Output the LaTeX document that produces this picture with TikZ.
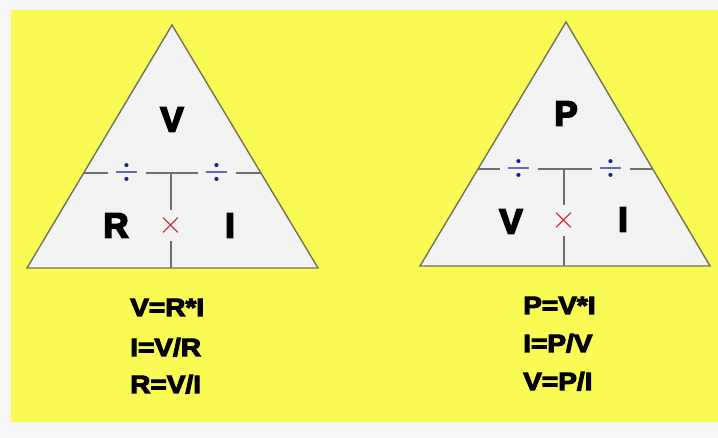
\RequirePackage{fix-cm}
\documentclass[tikz,border=0pt]{standalone}
\usepackage{fontspec}
\setmainfont{Liberation Sans}
\newfontfamily\heavy{Liberation Sans Bold}[FakeBold=5]
\newfontfamily\heavyeq{Liberation Sans Bold}[FakeBold=4]
\definecolor{bgy}{RGB}{250,250,85}
\definecolor{outerbg}{RGB}{246,246,246}
\definecolor{trifill}{RGB}{243,243,243}
\definecolor{triedge}{RGB}{115,115,85}
\definecolor{divline}{RGB}{110,110,110}
\definecolor{divblue}{RGB}{20,30,150}
\definecolor{mulred}{RGB}{200,40,40}
\begin{document}
\begin{tikzpicture}[x=1pt,y=-1pt,
  tri/.style={fill=trifill,draw=triedge,line width=1.4pt,line join=miter},
  divl/.style={draw=divline,line width=1.8pt},
  bigletter/.style={font=\heavy\fontsize{35}{35}\selectfont,text height=25pt,text depth=0pt,inner sep=0pt},
  divsign/.style={font=\fontsize{32}{32}\selectfont,text=divblue,fill=trifill,minimum width=38pt,minimum height=16pt,inner sep=0pt},
  mulsign/.style={font=\fontsize{32}{32}\selectfont,text=mulred,fill=trifill,minimum width=18pt,minimum height=31pt,inner sep=0pt},
  eqn/.style={font=\heavyeq\fontsize{25}{25}\selectfont,text height=18pt,text depth=0pt,inner sep=0pt,anchor=west,xscale=1.12}]
\fill[outerbg] (0,0) rectangle (718,438);
\fill[bgy] (11,10) rectangle (718,422);
\useasboundingbox (0,0) rectangle (718,438);
% left triangle
\coordinate (a1) at (172,25);
\coordinate (b1) at (27,268);
\coordinate (c1) at (318,268);
\coordinate (l1) at (84,173);
\coordinate (r1) at (261,173);
\coordinate (t1) at (171,173);
\coordinate (u1) at (171,268);
\draw[tri] (a1) -- (b1) -- (c1) -- cycle;
\draw[divl] (l1) -- (r1);
\draw[divl] (t1) -- (u1);
\node[divsign] (d1a) at (127,173) {$\div$};
\node[divsign] (d1b) at (217,173) {$\div$};
\node[mulsign] (m1) at (171,226) {$\times$};
\node[bigletter] (v1) at (172,119) {V};
\node[bigletter] (rr1) at (116,225) {R};
\node[bigletter] (i1) at (230,225) {I};
% right triangle
\coordinate (a2) at (566,22);
\coordinate (b2) at (420,266);
\coordinate (c2) at (710,266);
\coordinate (l2) at (478,169);
\coordinate (r2) at (653,169);
\coordinate (t2) at (564,169);
\coordinate (u2) at (564,266);
\draw[tri] (a2) -- (b2) -- (c2) -- cycle;
\draw[divl] (l2) -- (r2);
\draw[divl] (t2) -- (u2);
\node[divsign] (d2a) at (519,169) {$\div$};
\node[divsign] (d2b) at (611,169) {$\div$};
\node[mulsign] (m2) at (564,221) {$\times$};
\node[bigletter] (p2) at (566,113) {P};
\node[bigletter] (v2) at (511,221) {V};
\node[bigletter] (i2) at (623,219) {I};
% equations
\node[eqn] (e1) at (130,307) {V=R*I};
\node[eqn] (e2) at (130,347) {I=V/R};
\node[eqn] (e3) at (130,384) {R=V/I};
\node[eqn] (e4) at (523,305) {P=V*I};
\node[eqn] (e5) at (523,343) {I=P/V};
\node[eqn] (e6) at (523,381) {V=P/I};
\end{tikzpicture}
\end{document}
